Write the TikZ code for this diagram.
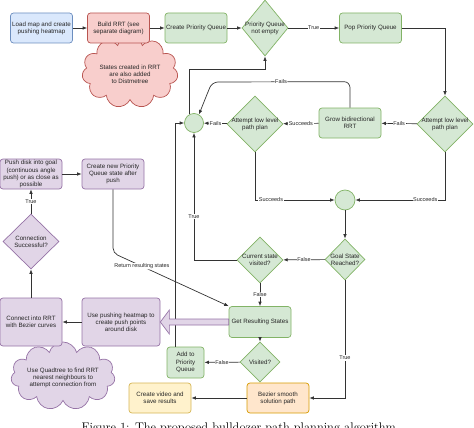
\documentclass[tikz,border=0pt]{standalone}
\usepackage{fontspec}
\setsansfont{Liberation Sans}
\usetikzlibrary{arrows.meta,shapes.geometric,shapes.symbols}
\definecolor{bluefill}{HTML}{DAE8FC}
\definecolor{bluedraw}{HTML}{6C8EBF}
\definecolor{redfill}{HTML}{F8CECC}
\definecolor{reddraw}{HTML}{B85450}
\definecolor{greenfill}{HTML}{D5E8D4}
\definecolor{greendraw}{HTML}{82B366}
\definecolor{purplefill}{HTML}{E1D5E7}
\definecolor{purpledraw}{HTML}{9673A6}
\definecolor{orangefill}{HTML}{FFE6CC}
\definecolor{orangedraw}{HTML}{D79B00}
\definecolor{yellowfill}{HTML}{FFF2CC}
\definecolor{yellowdraw}{HTML}{D6B656}
\definecolor{linegray}{HTML}{333333}
\tikzset{
  txt/.style={ font=\sffamily\fontsize{6.2}{7.2}\selectfont, align=center, text=black!85 },
  box/.style={ txt, rectangle, rounded corners=3pt, draw, line width=0.7pt, inner sep=1pt, minimum width=62, minimum height=30 },
  dia/.style={ diamond, draw, line width=0.7pt, inner sep=0pt },
  dot/.style={ circle, draw, line width=0.7pt, minimum size=19, inner sep=0pt },
  puff/.style={ cloud, cloud puffs=11, cloud ignores aspect, draw, line width=0.7pt, inner sep=0pt },
  fblue/.style={ fill=bluefill, draw=bluedraw },
  fred/.style={ fill=redfill, draw=reddraw },
  fgreen/.style={ fill=greenfill, draw=greendraw },
  fpurple/.style={ fill=purplefill, draw=purpledraw },
  forange/.style={ fill=orangefill, draw=orangedraw },
  fyellow/.style={ fill=yellowfill, draw=yellowdraw },
  fat/.style={ fill=purplefill, draw=purpledraw, line width=0.7pt },
  conn/.style={ draw=linegray, line width=0.7pt, -{Latex[length=4.5pt,width=3.5pt]} },
  lbl/.style={ font=\sffamily\fontsize{5.5}{6}\selectfont, fill=white, inner sep=0.6pt, text=black!85 }
}
\begin{document}
\begin{tikzpicture}[ x=1pt, y=-1pt ]
  \useasboundingbox (0,0) rectangle (474,428);
  \node [ puff, fred, minimum width=96, minimum height=72, label={[txt, yshift=-2pt]center:{States created in RRT\\are also added\\to Distmetree}} ] (note1) at (130,72) {};
  \node [ puff, fpurple, minimum width=104, minimum height=68, label={[txt, yshift=-2pt]center:{Use Quadtree to find RRT\\nearest neighbours to\\attempt connection from}} ] (note2) at (63,376) {};

  \node [ box, fblue ] (load) at (41.5,28) {Load map and create\\pushing heatmap};
  \node [ box, fred ] (rrt) at (118.5,28) {Build RRT (see\\separate diagram)};
  \node [ box, fgreen ] (cpq) at (196,28) {Create Priority Queue};
  \node [ dia, fgreen, minimum width=46, minimum height=56, label={[txt]center:{Priority Queue\\not empty}} ] (pqne) at (265,28) {};
  \node [ box, fgreen ] (pop) at (370.5,28) {Pop Priority Queue};

  \node [ dia, fgreen, minimum width=56, minimum height=56, label={[txt]center:{Attempt low level\\path plan}} ] (pl2) at (445,124) {};
  \node [ box, fgreen ] (grow) at (350,123) {Grow bidirectional\\RRT};
  \node [ dia, fgreen, minimum width=56, minimum height=56, label={[txt]center:{Attempt low level\\path plan}} ] (pl1) at (255,124) {};
  \node [ dot, fgreen ] (c1) at (194,123) {};
  \node [ dot, fgreen, minimum size=20 ] (c2) at (345,200) {};

  \node [ dia, fgreen, minimum width=40, minimum height=41, label={[txt]center:{Goal State\\Reached?}} ] (goal) at (345,259.5) {};
  \node [ dia, fgreen, minimum width=46, minimum height=46, label={[txt]center:{Current state\\visited?}} ] (cv) at (260,260) {};
  \node [ box, fgreen, minimum height=31 ] (grs) at (260,322) {Get Resulting States};
  \node [ dia, fgreen, minimum width=40, minimum height=40, label={[txt]center:{Visited?}} ] (vis) at (260,362) {};
  \node [ box, fgreen, minimum width=37, minimum height=31 ] (apq) at (185.5,362.5) {Add to\\Priority\\Queue};
  \node [ box, forange ] (bez) at (278,398) {Bezier smooth\\solution path};
  \node [ box, fyellow ] (vid) at (160,398) {Create video and\\save results};

  \node [ box, fpurple, minimum width=78, minimum height=48 ] (uph) at (121,322) {Use pushing heatmap to\\create push points\\around disk};
  \node [ box, fpurple, minimum height=48 ] (cir) at (31,322) {Connect into RRT\\with Bezier curves};
  \node [ dia, fpurple, minimum width=56, minimum height=55, label={[txt]center:{Connection\\Successful?}} ] (cs) at (31,241.5) {};
  \node [ box, fpurple ] (push) at (31,174) {Push disk into goal\\(continuous angle\\push) or as close as\\possible};
  \node [ box, fpurple ] (cnp) at (113,174) {Create new Priority\\Queue state after\\push};

  \node [ anchor=base west, font=\fontsize{12.5}{14}\selectfont ] (cap) at (78,431) {Figure 1: The proposed bulldozer path planning algorithm};

  \draw [ conn ] (load) -- (rrt);
  \draw [ conn ] (rrt) -- (cpq);
  \draw [ conn ] (cpq) -- (pqne);
  \draw [ conn ] (pqne) -- node [ lbl ] {True} (pop);
  \draw [ conn ] (pop) -| (pl2.north);
  \draw [ conn ] (pl2) -- node [ lbl ] {Fails} (grow);
  \draw [ conn ] (grow) -- node [ lbl ] {Succeeds} (pl1);
  \draw [ conn ] (pl1) -- node [ lbl ] {Fails} (c1);
  \draw [ conn, rounded corners=6pt ] (grow.north) -- ++(0,-26) -- node [ lbl ] {Fails} (212,82) -- (c1.60);
  \draw [ conn ] (c1.120) -- ++(0,-45) -| (pqne.south);
  \draw [ conn ] (pl1.south) |- node [ lbl, pos=0.6 ] {Succeeds} (c2);
  \draw [ conn ] (pl2.south) |- node [ lbl, pos=0.61 ] {Succeeds} (c2);
  \draw [ conn ] (c2) -- (goal);
  \draw [ conn ] (goal) -- node [ lbl ] {False} (cv);
  \draw [ conn ] (cv.west) -| node [ lbl, pos=0.67 ] {True} (c1.south);
  \draw [ conn ] (cv) -- node [ lbl ] {False} (grs);
  \draw [ conn ] (goal.south) |- node [ lbl, pos=0.33 ] {True} (bez.east);
  \draw [ conn ] (bez) -- (vid);
  \draw [ conn ] (grs) -- (vis);
  \draw [ conn ] (vis) -- node [ lbl ] {False} (apq);
  \draw [ conn ] ([xshift=-10pt]apq.north) |- (c1.west);
  \draw [ fat ] ([yshift=3pt]grs.west) -- ([xshift=9pt,yshift=3pt]uph.east) -- ([xshift=9pt,yshift=12pt]uph.east) -- (uph.east) -- ([xshift=9pt,yshift=-12pt]uph.east) -- ([xshift=9pt,yshift=-3pt]uph.east) -- ([yshift=-3pt]grs.west) -- cycle;
  \draw [ conn ] (uph) -- (cir);
  \draw [ conn ] (cir) -- (cs);
  \draw [ conn ] (cs) -- node [ lbl ] {True} (push);
  \draw [ conn ] (push) -- (cnp);
  \draw [ conn, rounded corners=5pt ] (cnp.south) -- (113,253) -- node [ lbl, pos=0.25 ] {Return resulting states} (grs.north west);
\end{tikzpicture}
\end{document}
